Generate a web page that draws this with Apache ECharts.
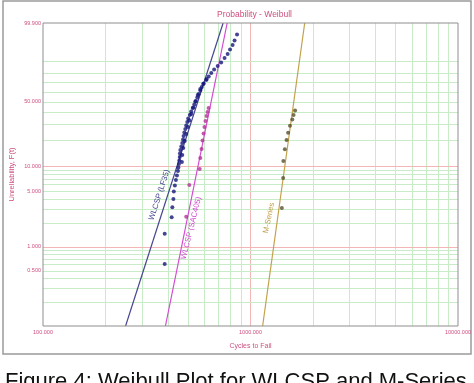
<!DOCTYPE html>
<html><head><meta charset="utf-8">
<script src="https://cdn.jsdelivr.net/npm/echarts@6/dist/echarts.min.js"></script>
<style>html,body{margin:0;padding:0;background:#fff;}#c{width:474px;height:383px;}</style>
</head><body><div id="c"></div>
<script>
// ---- data (cycles to fail, unreliability %) ----
const lf35Cycles = [386,386,417,420,425,427,432,437,442,447,449,452,454,456,457,459,464,469,473,476,480,485,490,496,501,510,518,527,536,545,554,563,573,582,595,612,629,647,668,695,722,750,776,797,820,838,861,
  467,469,474,482,490,499,507,518,530,542,557,573,592,615];
const lf35F = [0.61,1.46,2.36,3.14,3.99,4.94,5.85,6.84,7.76,8.81,9.70,10.68,11.76,12.94,14.23,15.63,17.15,18.82,20.62,22.56,24.67,26.92,29.34,31.93,34.69,37.61,40.70,43.94,47.32,50.83,54.44,58.14,61.88,65.63,69.36,73.02,76.56,79.94,83.12,86.07,88.73,91.70,93.90,95.88,97.37,98.42,99.28,
  11.29,13.67,16.49,19.83,23.74,28.29,33.10,38.48,44.42,50.32,57.07,63.48,68.83,74.04];
const sacCycles = [490,507,569,573,581,587,594,600,607,614,621,628];
const sacF = [2.40,5.94,9.30,12.59,16.05,20.09,24.05,28.29,32.71,36.77,40.25,43.94];
const mCycles = [1416,1437,1440,1464,1492,1518,1550,1590,1613,1640];
const mF = [3.08,7.23,11.60,15.93,20.36,24.55,29.21,33.89,37.62,41.62];
// fitted Weibull lines (endpoints at 0.1% and 99.9%)
const lf35LineCycles = [250,738];
const sacLineCycles = [389,772];
const mLineCycles = [1144,1825];
const lineF = [0.1,99.9];
// labels
const seriesNames = ['WLCSP (LF35)','WLCSP (SAC405)','M-Series'];
const labelCycles = [364,518,1227];
const labelF = [4.47,1.73,2.31];
// grid & ticks
const xMinor = [200,300,400,500,600,700,800,900,2000,3000,4000,5000,6000,7000,8000,9000];
const xMajor = [1000];
const yMinor = [0.2,0.3,0.4,0.5,0.6,0.7,0.8,0.9,2,3,4,5,6,7,8,9,20,30,40,50,60,70,80,90];
const yMajor = [1,10];
const yTickLabels = [99.9,50,10,5,1,0.5,0.1];

const wt = F => Math.log(-Math.log(1 - F/100));
const pink = '#cf4f7f';
const green = '#c8ebc8';
const red = '#f3b6b6';

const pairs = (xs, fs) => xs.map((x,i)=>[x, wt(fs[i])]);

const gridLines = [];
xMinor.forEach(v=>gridLines.push({xAxis:v, lineStyle:{color:green,width:1,type:'solid'}, label:{show:false}}));
xMajor.forEach(v=>gridLines.push({xAxis:v, lineStyle:{color:red,width:1,type:'solid'}, label:{show:false}}));
yMinor.forEach(v=>gridLines.push({yAxis:wt(v), lineStyle:{color:green,width:1,type:'solid'}, label:{show:false}}));
yMajor.forEach(v=>gridLines.push({yAxis:wt(v), lineStyle:{color:red,width:1,type:'solid'}, label:{show:false}}));
const tickLabelLines = yTickLabels.map(v=>({yAxis:wt(v), lineStyle:{color:'rgba(0,0,0,0)', width:0.01},
  label:{show:true, position:'start', distance:2, formatter:v.toFixed(3), fontSize:5.5, color:pink, fontFamily:'Liberation Sans'}}));

const colors = {
  lf35Dot:'#17177a', lf35Line:'#474791',
  sacDot:'#b52f9a', sacLine:'#d34ad3',
  mDot:'#57502a', mLine:'#c3a24e'
};

function labelPoint(i, color, rot){
  return {z:2, symbol:'circle', symbolSize:1, silent:true, animation:false, itemStyle:{color:'rgba(0,0,0,0)'},
    label:{show:true, position:'inside', formatter:seriesNames[i], rotate:rot, color:color, fontSize:7.8, fontFamily:'Liberation Sans'},
    data:[{coord:[labelCycles[i], wt(labelF[i])]}]};
}

const chart = echarts.init(document.getElementById('c'), null, {renderer:'canvas'});
chart.setOption({
  animation:false,
  backgroundColor:'#fff',
  title:{text:'Probability - Weibull', left:249.5, top:5, textAlign:'center',
    textStyle:{fontSize:8.5, fontWeight:'normal', color:pink, fontFamily:'Liberation Sans'}},
  grid:{left:41, right:16, top:23, bottom:57, show:true, borderColor:'#8e8e8e', borderWidth:1, backgroundColor:'transparent', z:6},
  xAxis:{type:'log', logBase:10, min:100, max:10000,
    axisLine:{show:false}, axisTick:{show:false}, splitLine:{show:false},
    axisLabel:{formatter:v=>Number(v).toFixed(3), fontSize:5.5, color:pink, margin:3, showMinLabel:true, showMaxLabel:true, fontFamily:'Liberation Sans'},
    name:'Cycles to Fail', nameLocation:'middle', nameGap:17,
    nameTextStyle:{fontSize:7, color:pink, fontFamily:'Liberation Sans'}},
  yAxis:{type:'value', min:wt(0.1), max:wt(99.9),
    axisLine:{show:false}, axisTick:{show:false}, splitLine:{show:false}, axisLabel:{show:false},
    name:'Unreliability, F(t)', nameLocation:'middle', nameGap:27,
    nameTextStyle:{fontSize:7.5, color:pink, fontFamily:'Liberation Sans'}},
  graphic:[
    {type:'rect', z:-1, shape:{x:3,y:1,width:468,height:353}, style:{fill:'none', stroke:'#9a9a9a', lineWidth:1.5}},
    {type:'text', left:5, top:371, style:{text:'Figure 4: Weibull Plot for WLCSP and M-Series', fontSize:22, fill:'#111', fontFamily:'Liberation Sans'}}
  ],
  series:[
    {type:'line', z:1, data:[[100, wt(0.1)]], symbol:'none', lineStyle:{opacity:0}, silent:true,
      markLine:{z:1, silent:true, symbol:['none','none'], animation:false, data:gridLines}},
    {type:'line', z:1, data:[[100, wt(0.1)]], symbol:'none', lineStyle:{opacity:0}, silent:true,
      markLine:{z:1, silent:true, symbol:['none','none'], animation:false, data:tickLabelLines}},
    {type:'line', z:2, data:pairs(lf35LineCycles, lineF), symbol:'none', lineStyle:{color:colors.lf35Line, width:1.2}, markPoint:labelPoint(0, colors.lf35Line, 72)},
    {type:'line', z:2, data:pairs(sacLineCycles, lineF), symbol:'none', lineStyle:{color:colors.sacLine, width:1.2}, markPoint:labelPoint(1, colors.sacLine, 76)},
    {type:'line', z:2, data:pairs(mLineCycles, lineF), symbol:'none', lineStyle:{color:colors.mLine, width:1.2}, markPoint:labelPoint(2, colors.mLine, 78)},
    {type:'scatter', z:3, data:pairs(lf35Cycles, lf35F), symbolSize:4, itemStyle:{color:colors.lf35Dot}},
    {type:'scatter', z:3, data:pairs(sacCycles, sacF), symbolSize:4, itemStyle:{color:colors.sacDot}},
    {type:'scatter', z:3, data:pairs(mCycles, mF), symbolSize:4, itemStyle:{color:colors.mDot}}
  ]
});
</script>
</body></html>
